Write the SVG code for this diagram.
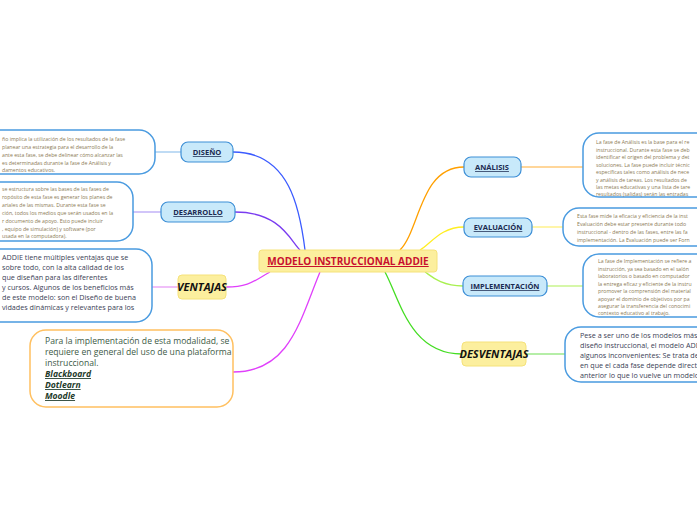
<svg xmlns="http://www.w3.org/2000/svg" width="697" height="520" viewBox="0 0 697 520">
<style>
.sub{fill:#c8e9fa;stroke:#3d8fd6;stroke-width:1.2}
.yel{fill:#fcef9e;stroke:#f5e27a;stroke-width:1}
.box{fill:#fff;stroke:#4a9be0;stroke-width:1.5}
.sl{font-family:"Open Sans","Liberation Sans",sans-serif;font-size:7.5px;font-weight:bold;fill:#1b2a50;text-decoration:underline;text-anchor:middle}
.yl{font-family:"Open Sans","Liberation Sans",sans-serif;font-size:11px;font-weight:bold;font-style:italic;fill:#111;text-anchor:middle}
.t{font-family:"Open Sans","Liberation Sans",sans-serif;font-size:5.2px;fill:#8c7a55}
.tv{font-family:"Open Sans","Liberation Sans",sans-serif;font-size:7.2px;fill:#3b4256}
.tp{font-family:"Open Sans","Liberation Sans",sans-serif;font-size:8.6px;fill:#3d5a46}
.ln{fill:none;stroke-width:1.3}
</style>
<rect width="697" height="520" fill="#fff"/>
<g id="connectors">
<path class="ln" stroke="#3b5bff" d="M233,152 C290,152 300,210 305,250"/>
<path class="ln" stroke="#7a3cf0" d="M235,212 C280,212 290,240 300,250"/>
<path class="ln" stroke="#e040fb" d="M226,287 C250,287 255,280 270,272"/>
<path class="ln" stroke="#e040fb" d="M233,372 C290,372 300,320 320,272"/>
<path class="ln" stroke="#ffa000" d="M464,167 C420,167 420,230 400,250"/>
<path class="ln" stroke="#ffee22" d="M464,227 C440,227 430,245 420,250"/>
<path class="ln" stroke="#a8f050" d="M463,286 C440,286 430,275 425,272"/>
<path class="ln" stroke="#44dd22" d="M462,354 C410,354 400,300 385,272"/>
<path class="ln" stroke="#9cc8ee" d="M155,152 L181,152"/>
<path class="ln" stroke="#b8a6f6" d="M133,212 L161,212"/>
<path class="ln" stroke="#e89cf6" d="M152,287 L178,287"/>
<path class="ln" stroke="#ffc878" d="M521,167 L583,167"/>
<path class="ln" stroke="#fff07a" d="M532,227 L563,227"/>
<path class="ln" stroke="#c8f48c" d="M547,286 L583,286"/>
<path class="ln" stroke="#9ce88a" d="M526,354 L565,354"/>
</g>
<g id="center">
<rect x="259" y="250" width="178" height="22" rx="3" fill="#fcef9e" stroke="#f5e27a"/>
<text x="348" y="265" font-family="Open Sans,Liberation Sans,sans-serif" font-size="10px" font-weight="bold" fill="#c8102e" text-anchor="middle" text-decoration="underline">MODELO INSTRUCCIONAL ADDIE</text>
</g>
<g id="diseno">
<rect class="sub" x="181" y="142" width="52" height="20" rx="7"/>
<text class="sl" x="207" y="155">DISEÑO</text>
<rect class="box" x="-20" y="130" width="175" height="44" rx="16"/>
<text class="t"><tspan x="2" y="141">ño implica la utilización de los resultados de la fase</tspan><tspan x="2" y="149">planear una estrategia para el desarrollo de la</tspan><tspan x="2" y="157">ante esta fase, se debe delinear cómo alcanzar las</tspan><tspan x="2" y="165">es determinadas durante la fase de Análisis y</tspan><tspan x="2" y="172">damentos educativos.</tspan></text>
</g>
<g id="desarrollo">
<rect class="sub" x="161" y="202" width="74" height="20" rx="7"/>
<text class="sl" x="198" y="215">DESARROLLO</text>
<rect class="box" x="-20" y="182" width="153" height="59" rx="16"/>
<text class="t"><tspan x="2" y="191">se estructura sobre las bases de las fases de</tspan><tspan x="2" y="199">ropósito de esta fase es generar los planes de</tspan><tspan x="2" y="207">ariales de las mismas. Durante esta fase se</tspan><tspan x="2" y="215">ción, todos los medios que serán usados en la</tspan><tspan x="2" y="223">r documento de apoyo. Esto puede incluir</tspan><tspan x="2" y="231">, equipo de simulación) y software (por</tspan><tspan x="2" y="238">usada en la computadora).</tspan></text>
</g>
<g id="ventajas">
<rect class="yel" x="178" y="275" width="48" height="24" rx="4"/>
<text class="yl" x="202" y="291">VENTAJAS</text>
<rect class="box" x="-20" y="249" width="172" height="73" rx="16"/>
<text class="tv"><tspan x="2" y="260">ADDIE tiene múltiples ventajas que se</tspan><tspan x="2" y="270">sobre todo, con la alta calidad de los</tspan><tspan x="2" y="280">que diseñan para las diferentes</tspan><tspan x="2" y="290">y cursos. Algunos de los beneficios más</tspan><tspan x="2" y="300">de este modelo: son el Diseño de buena</tspan><tspan x="2" y="310">vidades dinámicas y relevantes para los</tspan></text>
</g>
<g id="plataforma">
<rect x="30" y="330" width="203" height="77" rx="16" fill="#fff" stroke="#ffc060" stroke-width="1.5"/>
<text class="tp"><tspan x="45" y="344">Para la implementación de esta modalidad, se</tspan><tspan x="45" y="355">requiere en general del uso de una plataforma</tspan><tspan x="45" y="366">instruccional.</tspan><tspan x="45" y="377" font-weight="bold" font-style="italic" text-decoration="underline" fill="#1e3a2a">Blackboard</tspan><tspan x="45" y="388" font-weight="bold" font-style="italic" text-decoration="underline" fill="#1e3a2a">Dotlearn</tspan><tspan x="45" y="399" font-weight="bold" font-style="italic" text-decoration="underline" fill="#1e3a2a">Moodle</tspan></text>
</g>
<g id="analisis">
<rect class="sub" x="464" y="157" width="57" height="20" rx="7"/>
<text class="sl" x="492" y="170">ANÁLISIS</text>
<rect class="box" x="583" y="133" width="140" height="64" rx="16"/>
<text class="t"><tspan x="596" y="144">La fase de Análisis es la base para el re</tspan><tspan x="596" y="151.5">instruccional. Durante esta fase se deb</tspan><tspan x="596" y="159">identificar el origen del problema y det</tspan><tspan x="596" y="166.5">soluciones. La fase puede incluir técnic</tspan><tspan x="596" y="174">específicas tales como análisis de nece</tspan><tspan x="596" y="181.5">y análisis de tareas. Los resultados de</tspan><tspan x="596" y="189">las metas educativas y una lista de tare</tspan><tspan x="596" y="196">resultados (salidas) serán las entradas</tspan></text>
</g>
<g id="evaluacion">
<rect class="sub" x="464" y="218" width="68" height="19" rx="7"/>
<text class="sl" x="498" y="230">EVALUACIÓN</text>
<rect class="box" x="563" y="208" width="160" height="38" rx="16"/>
<text class="t"><tspan x="577" y="218">Esta fase mide la eficacia y eficiencia de la inst</tspan><tspan x="577" y="226">Evaluación debe estar presente durante todo</tspan><tspan x="577" y="234">instruccional - dentro de las fases, entre las fa</tspan><tspan x="577" y="242">implementación. La Evaluación puede ser Forn</tspan></text>
</g>
<g id="implementacion">
<rect class="sub" x="463" y="276" width="84" height="20" rx="7"/>
<text class="sl" x="505" y="289">IMPLEMENTACIÓN</text>
<rect class="box" x="583" y="254" width="140" height="63" rx="16"/>
<text class="t"><tspan x="598" y="263">La fase de Implementación se refiere a</tspan><tspan x="598" y="270.5">instrucción, ya sea basado en el salón</tspan><tspan x="598" y="278">laboratorios o basado en computador</tspan><tspan x="598" y="285.5">la entrega eficaz y eficiente de la instru</tspan><tspan x="598" y="293">promover la comprensión del material</tspan><tspan x="598" y="300.5">apoyar el dominio de objetivos por pa</tspan><tspan x="598" y="308">asegurar la transferencia del conocimi</tspan><tspan x="598" y="315">contexto educativo al trabajo.</tspan></text>
</g>
<g id="desventajas">
<rect class="yel" x="462" y="342" width="64" height="24" rx="4"/>
<text class="yl" x="494" y="358">DESVENTAJAS</text>
<rect class="box" x="565" y="327" width="160" height="55" rx="16"/>
<text class="tv"><tspan x="580" y="338">Pese a ser uno de los modelos más</tspan><tspan x="580" y="348">diseño instruccional, el modelo ADD</tspan><tspan x="580" y="358">algunos inconvenientes: Se trata de</tspan><tspan x="580" y="368">en que el cada fase depende directa</tspan><tspan x="580" y="378">anterior lo que lo vuelve un modelo</tspan></text>
</g>
</svg>
